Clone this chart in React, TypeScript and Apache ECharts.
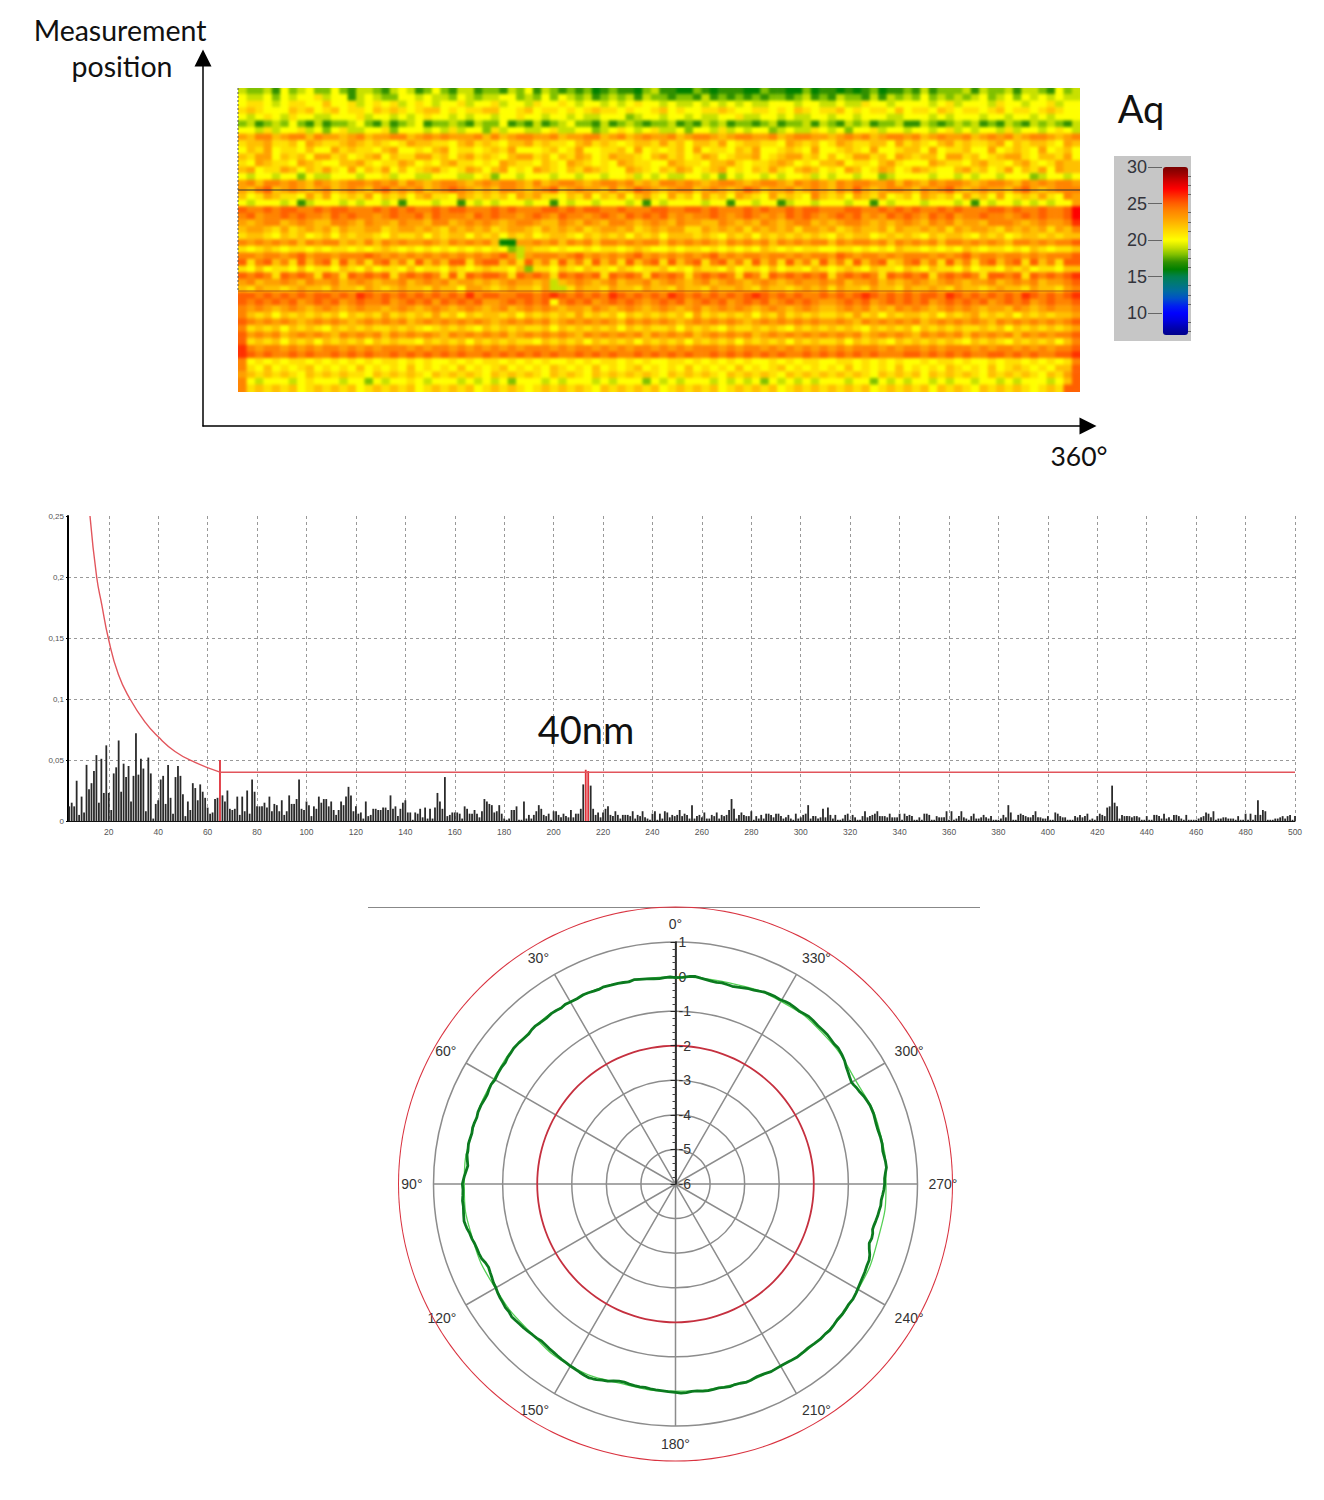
import React, { useEffect, useRef } from "react";
import * as echarts from "echarts";

// Heatmap: one character per cell, read as Aq = 16 + code position in CELL_CODES
const CELL_CODES = "0123456789ab";
const heatRows = [
  "3223142342 2421332134 3124213312 2132413212 1201211023 1100210111 0021100201 1010120112 1312223132 2313321423",
  "4334243445 3441343224 4343324323 3442324243 2312323132 2122131212 1212212312 1322131323 2423232342 3424343433",
  "4554345544 6445345453 4543445344 5344354454 3443434544 3433434343 4334443443 3433544344 4434534443 5443445344",
  "5654446564 5645546565 4566454556 6445645545 4565545445 6454455654 4554546545 5645455464 5546545545 6455456544",
  "4345435443 3444534434 3454434344 3445443443 4334442344 3443433445 3344343344 3443444334 4434344434 4344343444",
  "2312324213 1223421312 3412232132 2412131234 2213123212 2312132312 2123122313 2132312231 1321232312 1321323213",
  "4435344534 2453344524 4434353442 5344334533 4423454345 3342443534 3442343354 3424453443 4434534344 3534434543",
  "7688678868 7767867788 6787877786 8678877867 7886786787 7867887678 8778678877 6787867887 8678778678 7867887678",
  "5667556476 5567656545 7665546756 5466756554 6756545665 7564665745 6655476564 5765566475 6546756556 7465665476",
  "4657455464 4756554674 4546745545 6574445645 7445564745 4564745546 5744565474 4565474456 6474556447 4565474564",
  "6577465647 7564567465 5775646756 5467756465 7645766546 7564576456 6745677564 6457756476 5664775645 6775466574",
  "5476554765 4466754557 6454675545 4765546547 6545476554 4765546675 4556764546 6745546754 4476554675 5467545766",
  "6745576465 7547465746 4567545764 6745476546 5765447654 6576456745 4657546764 5476457645 7654467564 5746574766",
  "4344344243 3444344534 4334443345 2443444344 3443445343 4334434243 4434344534 3443442344 4434434344 3444234434",
  "7868878768 7678878786 8767887678 7887686788 7678878676 8878767887 6788768787 6878877868 7687887678 8768787887",
  "7689678767 8678768978 7867898767 6887678967 8776867987 6788678767 9867786787 6879767887 6878976787 7689767888",
  "6457655475 7456574656 4675547656 5647675546 5746574675 4756475647 6547565486 5647657456 4765647564 7456575487",
  "4344434134 4434344341 4443441434 3444344143 4434443414 3444434414 4344134434 4434414344 4344434143 4434343447",
  "9889899889 8998889898 9889899888 9898889989 8998898889 9889989888 9898898998 8899889898 9889898889 989889889b",
  "8978898988 7989887898 8979888798 9887898798 8789879898 9787889878 9878798987 8989787989 8798978898 878989889b",
  "7678867876 6887687768 7768867878 7678876687 6876887678 7687766876 7687678867 6788767678 7687867768 887678778a",
  "6776575676 7576677567 7676576767 5677657676 7567767567 6775576767 5767675776 7567667576 6767576776 5767675768",
  "5665465645 6465665465 5646566465 6465645665 4656564656 4666565465 6465656565 4656645656 5465665465 6456656566",
  "8787878687 8867686878 7787687878 6007787868 7868878788 6878787687 8786878788 6878878687 8786887878 7688787889",
  "5456545545 4554545654 5454545454 5423655454 4545545654 4545545454 5465454554 4554545465 5454546545 5454654556",
  "8878878978 8788898787 8787878787 8973788878 9787878978 7878789787 8878878788 7987887878 8878789788 7887878889",
  "9589685968 9596858968 5968699589 9685968596 8596859689 5968958968 5968596859 6859689568 9685968589 6895968599",
  "5464554645 5465464554 6455465456 5546255465 4655465455 6454655464 5546455465 4565465546 5465546455 4656455466",
  "9898598985 9859898958 9898595989 9859898598 9895989859 8985898985 9859898989 5898985989 8958989859 989598989a",
  "7867787687 7867876778 6787867767 6787767367 8767867786 7876786787 6787678778 7867786767 8767876778 6787867789",
  "6576656766 5766576567 6657664776 5676657335 7665766576 6576657667 6576656767 5766576657 6676576656 7665766578",
  "9989898989 9898a98989 8989898a89 9889989a98 9898a98989 8a98989898 9a98989889 8989a98989 8998a98989 898a98989a",
  "9898989789 8978988978 9897989897 7898989489 8978989878 9897898978 9897898987 7898978989 8978989897 8989789889",
  "8787678767 8767877678 7678767876 7867878767 7687678767 8767867878 7678767876 6787867687 8767878767 7687678778",
  "8656465656 5646565756 5657564656 6564656565 7565646565 6564756565 6465756565 5657564656 6564656756 5646565667",
  "9878787678 7876787878 6787878787 6787878678 7878768787 8767878787 6787878787 7876878787 8678787876 8787878789",
  "8565646565 4656565565 6545656546 5656556465 6565646565 5646565465 5656546565 6565465656 4656565565 6465656567",
  "9787867878 7687878687 8787687878 7867878787 6878787868 7878678787 8678787878 7878678787 6878786878 7868787889",
  "9565646564 6565646565 5465656465 6565546565 6465656465 6564656564 6565646565 5646565465 6565654656 5465656468",
  "a878878787 8878787888 7878878787 8787888787 8878787887 8787888787 8878787878 7878887878 8787888787 8878787889",
  "a989889898 8989898898 9898989889 8989898988 9898988989 8989889898 9898988989 8989898889 9898989889 989898899a",
  "8454545545 4545454554 5454454545 5454545445 4545545454 4554545454 5445454554 4554545454 4545545445 4554545458",
  "8546454564 5454645454 6454546454 5645454654 5464545645 4546454546 4545645454 5464545464 5454654546 4565454669",
  "7656565465 6565546565 6546565654 6565654656 5465656565 4656565465 6565465656 5656546565 6465656546 5656546579",
  "8434443454 4434424344 5434443434 3424443434 4434344424 3434443434 3424343434 4434424343 4434344344 3434443469",
  "8565656456 5656456565 6456565645 6565456565 6546565656 4565656456 5656456565 6565645656 5646565465 6565456599",
];
const colorStops = [
  "#00008a", "#0000b0", "#0000e0", "#0000ff", "#0020f0", "#0050c8", "#006ca0", "#007878",
  "#008050", "#008000", "#309000", "#80c000", "#c8e000", "#ffff00", "#ffe000", "#ffc000",
  "#ffa000", "#ff8400", "#ff6000", "#ff3000", "#ff0000", "#d40000", "#a00000", "#7a0000",
];
const colorbarLabels = [10, 15, 20, 25, 30];
const colorbarMinor = [7.5, 8.75, 11.25, 12.5, 13.75, 16.25, 17.5, 18.75, 21.25, 22.5, 23.75, 26.25, 27.5, 28.75];

// Spectrum amplitudes by order, each list with its first order
const barsFrom4 = [
  .012, .015, .012, .033, .005, .02, .007, .046, .026, .031, .041, .054, .015, .051, .023, .062, .023, .009,
  .039, .044, .066, .024, .047, .036, .045, .016, .037, .072, .038, .051, .043, .008, .052, .039, .002, .014,
  .017, .034, .037, .014, .046, .019, .006, .036, .045, .037, .022, .004, .016, .009, .031, .027, .017, .03,
  .024, .019, .011, .006, .007, .018, .019, .05, .021, .016, .025, .01, .009, .01, .02, .005, .02, .008, .025,
  .006, .034, .024, .012, .012, .012, .015, .011, .02, .008, .014, .013, .008, .017, .005, .008, .021, .014,
  .014, .018, .034, .01, .009, .016, .013, .004, .012, .01, .02, .015, .018, .018, .012, .016, .009, .005,
  .009, .016, .013, .02, .028, .021, .008, .012,
];
const barsFrom121 = [
  .006, .007, .002, .016, .004, .005, .01, .01, .009, .009, .011, .011, .009, .021, .01, .012, .004, .01, .015,
  .017, .007, .007, .001, .007, .006, .01, .003, .011, .002, .01, .002, .011, .023, .016, .01, .036, .004, .005,
  .007, .007, .007, .006, .002, .012, .01, .006, .006, .009, .006, .003, .008, .018, .016, .014, .013, .007,
  .008, .013, .006, .002, .001, .002, .009, .009, .012, .001, .001, .016, .002, .005, .002, .005, .008, .013,
  .01, .005, .004, .006, .001, .008, .008, .005, .003, .006, .004, .003, .009, .003, .006, .006, .01, .03, .042,
  .041, .029, .01, .005, .007, .003, .007, .01, .012, .005, .004, .008, .005, .002, .005, .005, .005, .004, .008,
  .002, .005, .004, .008, .003, .002, .001, .006, .008, .001, .006, .002, .008, .007, .003, .005, .004, .005,
];
const barsFrom251 = [
  .009, .004, .006, .005, .002, .013, .002, .004, .005, .003, .007, .002, .002, .005, .004, .007, .002, .005, .004,
  .005, .009, .018, .01, .002, .005, .007, .005, .004, .004, .008, .001, .004, .002, .005, .002, .006, .006, .005,
  .003, .006, .006, .004, .002, .003, .005, .002, .001, .006, .002, .003, .005, .006, .013, .002, .004, .004, .002,
  .003, .01, .003, .011, .005, .002, .005, .001, .001, .002, .005, .006, .001, .005, .003, .001, .001, .004, .008,
  .003, .004, .005, .006, .008, .004, .004, .004, .003, .006, .003, .003, .003, .006, .001, .006, .004, .005, .004,
  .001, .001, .003, .001, .006, .006, .005, .001, .001, .004, .003, .003, .003, .008, .001, .008, .001, .002, .004,
  .008, .003, .002, .001, .004, .006, .002, .002, .003, .005, .003, .002, .004, .001, .001, .001,
];
const barsFrom381 = [
  .002, .005, .003, .013, .007, .001, .001, .005, .006, .005, .004, .003, .003, .005, .008, .003, .003, .002, .002,
  .004, .001, .001, .007, .006, .004, .003, .003, .001, .001, .001, .004, .003, .005, .003, .004, .006, .001, .002,
  .001, .004, .006, .005, .004, .011, .012, .029, .015, .012, .002, .005, .004, .004, .004, .003, .004, .004, .003,
  .001, .001, .004, .001, .001, .005, .005, .004, .002, .006, .002, .003, .001, .005, .005, .004, .002, .001, .005,
  .001, .001, .001, .001, .002, .003, .004, .007, .006, .003, .008, .001, .002, .002, .003, .003, .002, .002, .002,
  .001, .004, .001, .001, .006, .001, .006, .001, .005, .017, .005, .009, .008, .001, .001, .001, .002, .002, .003,
  .004, .002, .004, .005, .001, .004,
];
const redOrders = [65, 213, 214];
const thresholdCurve = [
  [12.4, .25], [15.1, .2], [17.2, .177], [19.8, .15], [23.9, .12], [28.6, .1], [34.7, .081],
  [40, .069], [46.8, .057], [54.9, .048], [65, .04],
];
const thresholdFlat = [[65, .04], [500, .04]];
const xTicks = [20, 40, 60, 80, 100, 120, 140, 160, 180, 200, 220, 240, 260, 280, 300, 320, 340, 360, 380, 400, 420, 440, 460, 480, 500];

// Roundness profile: [angle in degrees, deviation]
const profile = [
  [0, -.03], [1.5, -.01], [3, -.02], [4.5, -.04], [6, -.03], [8, -.01], [10, .01], [11.5, .03], [13, 0], [14.5, .02], [16, .04],
  [18, .05], [20, .07], [21.5, .05], [23, .06], [24.5, .08], [26, .09], [28, .07], [30, .08], [31.5, .1], [33, .07], [34.5, .09],
  [36, .1], [38, .08], [40, .09], [41.5, .11], [43, .1], [44.5, .07], [46, .08], [48, .1], [50, .11], [51.5, .09], [53, .08],
  [54.5, .05], [56, .06], [58, .05], [60, .03], [61.5, .06], [63, .05], [64.5, .03], [66, .04], [68, .07], [70, .08], [71.5, .06],
  [73, .08], [74.5, .09], [76, .07], [78, .09], [79, .1], [81, .08], [82, .09], [83.5, .06], [85, .03], [86.5, .07], [88, .115],
  [89, .14], [90, .165], [91.5, .15], [93, .16], [94.5, .18], [96, .17], [98, .19], [100, .21], [101, .19], [102, .17], [103.5, .12],
  [105, .1], [106.5, .06], [108, .04], [109.5, .03], [111, .01], [112.5, -.05], [114, -.08], [115.5, -.06], [117, -.04], [118.5, -.01],
  [120, 0], [121.5, .03], [123, .05], [124.5, .06], [126, .08], [127.5, .07], [129, .1], [130.5, .08], [132, .06], [133.5, .05],
  [135, .03], [136.5, .01], [138, 0], [139.5, -.03], [141, -.02], [142.5, 0], [144, .01], [145.5, .03], [147, .05], [148.5, .06],
  [150, .08], [151.5, .09], [153, .11], [154.5, .13], [156, .14], [157, .12], [158, .1], [159.5, .06], [161, .03], [162.5, -.03],
  [164, -.07], [165.5, -.08], [167, -.06], [168.5, -.05], [170, -.04], [171.5, -.05], [173, -.03], [174.5, -.02], [176, -.01],
  [178, .01], [180, .03], [181.5, .05], [183, .04], [184.5, .02], [186, .02], [187.5, .04], [189, .05], [190.5, .04], [192, .03],
  [193.5, .05], [195, .07], [196.5, .05], [198, .06], [199.5, .09], [201, .08], [203, .05], [205, .06], [207, .09], [209, .08],
  [211, .08], [213, .1], [215, .12], [217, .11], [219, .1], [221, .12], [223, .14], [225, .13], [226.5, .15], [228, .135], [230, .11],
  [232, .12], [233.5, .11], [235, .1], [237, .12], [239, .1], [241, .07], [243, .05], [245, .04], [247, .02], [248.5, .02], [250, -.02],
  [251.5, -.09], [253, -.14], [254.5, -.11], [256, -.12], [257, -.15], [258, -.14], [259.5, -.11], [261, -.08], [262.5, -.06],
  [264, -.03], [265.5, -.03], [267, 0], [268.5, .03], [270, .05], [271.5, .05], [273, .08], [274.5, .12], [276, .11], [277.5, .09],
  [279, .07], [281, .09], [283, .08], [285, .06], [287, .06], [289.5, .08], [292, .07], [293.5, .04], [295, .01], [296.5, -.04],
  [298, -.07], [299, -.1], [300, -.12], [301.5, -.09], [303, -.05], [304.5, -.01], [306, .05], [308, .1], [310, .135], [311.5, .12],
  [313, .14], [314.5, .16], [316, .16], [318, .16], [320, .18], [321.5, .19], [323, .17], [324.5, .15], [326, .16], [327.5, .17],
  [329, .16], [330.5, .13], [332, .14], [333.5, .13], [335, .12], [336.5, .08], [338, .05], [339.5, .03], [341, 0], [342.5, -.03],
  [344, -.05], [345.5, -.04], [347, -.03], [348.5, -.05], [350, -.04], [351.5, -.02], [353, 0], [354.5, .03], [356, .02], [357, 0],
  [358, -.02], [360, -.03],
];
const fittedProfile = [
  [0, 0], [15, .03], [30, .07], [45, .1], [60, .07], [75, .07], [90, .11], [105, .08], [120, .02], [135, 0], [150, .07],
  [165, -.02], [180, -.01], [195, .03], [210, .08], [225, .12], [240, .1], [255, .07], [270, .09], [285, .1], [300, .01],
  [315, .09], [330, .1], [345, .02], [360, 0],
];
const circleAngles = [
  0, 5, 10, 15, 20, 25, 30, 35, 40, 45, 50, 55, 60, 65, 70, 75, 80, 85, 90, 95, 100, 105, 110, 115, 120, 125, 130, 135, 140, 145,
  150, 155, 160, 165, 170, 175, 180, 185, 190, 195, 200, 205, 210, 215, 220, 225, 230, 235, 240, 245, 250, 255, 260, 265, 270, 275,
  280, 285, 290, 295, 300, 305, 310, 315, 320, 325, 330, 335, 340, 345, 350, 355, 360,
];
const lowerLimit = -2;
const outerLimit = 2;

const SANS = "Lato";
const ARIAL = "Liberation Sans";
const hidden = { show: false };

// The blurred layer repeats its border cells one step outside the clipped frame, so the edges stay crisp.
function buildHeatOption() {
  const rows = heatRows.map((r) => r.replace(/ /g, ""));
  const padded = [rows[0], ...rows, rows[rows.length - 1]].map((r) => r[0] + r + r[r.length - 1]);
  const heatData: number[][] = [];
  padded.forEach((row, y) => {
    row.split("").forEach((c, x) => heatData.push([x, y, 16 + CELL_CODES.indexOf(c)]));
  });
  return {
    animation: false,
    visualMap: { show: false, type: "continuous", dimension: 2, min: 7, max: 30, inRange: { color: colorStops } },
    grid: { left: 0, right: 0, top: 0, bottom: 0 },
    xAxis: { type: "category", data: padded[0].split("").map((_, i) => String(i)), show: false },
    yAxis: { type: "category", data: padded.map((_, i) => String(i)), inverse: true, show: false },
    series: [{ type: "heatmap", data: heatData, silent: true, itemStyle: { borderWidth: 0 } }],
  };
}

function buildOption() {
  const barData: any[] = [];
  ([[4, barsFrom4], [121, barsFrom121], [251, barsFrom251], [381, barsFrom381]] as [number, number[]][]).forEach(([start, vals]) => {
    vals.forEach((v, i) => {
      const order = start + i;
      barData.push(
        redOrders.includes(order)
          ? { value: [order, v], itemStyle: { color: "#e0313a" } }
          : { value: [order, v] }
      );
    });
  });
  return {
    animation: false,
    textStyle: { fontFamily: ARIAL },
    visualMap: {
      type: "continuous",
      seriesIndex: 0,
      dimension: 2,
      min: 7,
      max: 30,
      left: 1163,
      top: 167,
      itemWidth: 25,
      itemHeight: 168,
      padding: 0,
      calculable: false,
      hoverLink: false,
      inRange: { color: colorStops },
    },
    grid: [
      { left: 203, top: 58, width: 885, height: 368 },
      { left: 1162, top: 167, width: 26, height: 168 },
      { left: 68, top: 516, width: 1227, height: 305 },
      { left: 238, top: 88, width: 842, height: 304 },
    ],
    xAxis: [
      {
        type: "value", gridIndex: 0, min: 0, max: 1,
        axisLine: { show: true, lineStyle: { color: "#000", width: 1.5 }, symbol: ["none", "triangle"], symbolSize: [17, 17] },
        axisTick: hidden, axisLabel: hidden, splitLine: hidden,
      },
      { type: "value", gridIndex: 1, min: 0, max: 1, show: false },
      {
        type: "value", gridIndex: 2, min: 3.5, max: 500,
        axisLine: { show: true, onZero: false, lineStyle: { color: "#111", width: 1 } },
        axisTick: { show: false, customValues: xTicks },
        axisLabel: { customValues: xTicks, fontSize: 8.5, color: "#555", margin: 6, fontFamily: ARIAL },
        splitLine: { show: true, lineStyle: { color: "#999", type: [3, 3], width: 1 } },
      },
      { type: "category", gridIndex: 3, data: ["0"], show: false },
    ],
    yAxis: [
      {
        type: "value", gridIndex: 0, min: 0, max: 1,
        axisLine: { show: true, lineStyle: { color: "#000", width: 1.5 }, symbol: ["none", "triangle"], symbolSize: [17, 17] },
        axisTick: hidden, axisLabel: hidden, splitLine: hidden,
      },
      {
        type: "value", gridIndex: 1, min: 7, max: 30, z: 3,
        axisLine: hidden,
        axisTick: { show: true, length: 14, customValues: colorbarLabels, lineStyle: { color: "#666", width: 1 } },
        axisLabel: { customValues: colorbarLabels, fontSize: 18, color: "#33343c", margin: 15, fontFamily: ARIAL },
        splitLine: hidden,
      },
      {
        type: "value", gridIndex: 1, min: 7, max: 30, z: 3,
        axisLine: hidden,
        axisTick: { show: true, length: 3, customValues: colorbarMinor, lineStyle: { color: "#666", width: 1 } },
        axisLabel: hidden,
        splitLine: hidden,
      },
      {
        type: "value", gridIndex: 2, min: 0, max: 0.25, interval: 0.05,
        axisLine: { show: true, lineStyle: { color: "#000", width: 2 } },
        axisTick: { show: true, length: 2, lineStyle: { color: "#000" } },
        axisLabel: {
          fontSize: 8, color: "#555", margin: 4, fontFamily: ARIAL,
          formatter: (v: number) => String(v).replace(".", ","),
        },
        splitLine: { show: true, showMaxLine: false, showMinLine: false, lineStyle: { color: "#999", type: [3, 3], width: 1 } },
      },
      { type: "category", gridIndex: 3, data: ["0"], show: false },
    ],
    polar: [
      { center: [675.5, 1184], radius: 242 },
      { center: [675.5, 1184], radius: 277.5 },
    ],
    angleAxis: [
      {
        polarIndex: 0,
        type: "value", min: 0, max: 360, interval: 30, startAngle: 90, clockwise: false,
        axisLine: hidden,
        axisTick: hidden,
        axisLabel: {
          fontSize: 14, color: "#333", margin: 11, fontFamily: ARIAL,
          formatter: (v: number) => (v === 360 ? "" : v + "°"),
        },
        splitLine: { show: true, lineStyle: { color: "#8c8c8c", width: 1.5 } },
      },
      { polarIndex: 1, type: "value", min: 0, max: 360, startAngle: 90, clockwise: false, show: false },
    ],
    radiusAxis: [
      {
        polarIndex: 0,
        min: -6, max: 1, interval: 1, z: 5,
        axisLine: { show: true, lineStyle: { color: "#111", width: 1.5 } },
        axisTick: { show: true, inside: true, length: 5, lineStyle: { color: "#222" } },
        minorTick: { show: true, splitNumber: 5, length: 3, lineStyle: { color: "#444" } },
        axisLabel: { align: "left", verticalAlign: "middle", fontSize: 14, color: "#333", margin: -3, fontFamily: ARIAL },
        splitLine: {
          show: true,
          lineStyle: {
            width: 1.5,
            color: ["#8c8c8c", "#8c8c8c", "#8c8c8c", "#8c8c8c", "rgba(0,0,0,0)", "#8c8c8c", "rgba(0,0,0,0)", "#8c8c8c"],
          },
        },
      },
      { polarIndex: 1, min: -6, max: 2, show: false },
    ],
    series: [
      { type: "heatmap", xAxisIndex: 3, yAxisIndex: 4, data: [], silent: true },
      {
        type: "bar", xAxisIndex: 2, yAxisIndex: 3, data: barData, barWidth: 1.8, silent: true,
        itemStyle: { color: "#2a2a2a" },
      },
      {
        type: "line", xAxisIndex: 2, yAxisIndex: 3, data: thresholdCurve, symbol: "none", smooth: 0.5,
        lineStyle: { color: "#e2555c", width: 1.4 }, silent: true, z: 4,
      },
      {
        type: "line", xAxisIndex: 2, yAxisIndex: 3, data: thresholdFlat, symbol: "none",
        lineStyle: { color: "#e2555c", width: 1.4 }, silent: true, z: 4,
      },
      {
        type: "line", coordinateSystem: "polar", polarIndex: 0, data: circleAngles.map((a) => [lowerLimit, a]), symbol: "none", smooth: true,
        lineStyle: { color: "#c5303f", width: 1.8 }, silent: true, z: 3,
      },
      {
        type: "line", coordinateSystem: "polar", polarIndex: 1, data: circleAngles.map((a) => [outerLimit, a]), symbol: "none", smooth: true,
        lineStyle: { color: "#d9323f", width: 2 }, silent: true, z: 3,
      },
      {
        type: "line", coordinateSystem: "polar", polarIndex: 0, data: fittedProfile.map(([a, v]) => [v, a]), symbol: "none", smooth: true,
        lineStyle: { color: "#55d055", width: 1.3 }, silent: true, z: 4,
      },
      {
        type: "line", coordinateSystem: "polar", polarIndex: 0, data: profile.map(([a, v]) => [v, a]), symbol: "none",
        lineStyle: { color: "#0b7a1f", width: 2.8 }, silent: true, z: 5,
      },
    ],
    graphic: {
      elements: [
        { type: "rect", z: -1, shape: { x: 1114, y: 156, width: 77, height: 185 }, style: { fill: "#c6c6c6" } },
        { type: "line", z: 10, shape: { x1: 238, y1: 190, x2: 1080, y2: 190 }, style: { stroke: "#333", lineWidth: 1 } },
        { type: "line", z: 10, shape: { x1: 238, y1: 291, x2: 1080, y2: 291 }, style: { stroke: "#a8481a", lineWidth: 0.8 } },
        { type: "line", z: 10, shape: { x1: 238, y1: 88, x2: 238, y2: 290 }, style: { stroke: "#555", lineWidth: 1, lineDash: [2, 2] } },
        { type: "line", z: 1, shape: { x1: 368, y1: 907.5, x2: 980, y2: 907.5 }, style: { stroke: "#888", lineWidth: 1 } },
        { type: "text", z: 10, x: 120, y: 30, style: { text: "Measurement", font: `28.5px ${SANS}`, fill: "#111", textAlign: "center", textVerticalAlign: "middle" } },
        { type: "text", z: 10, x: 122, y: 66, style: { text: "position", font: `28.5px ${SANS}`, fill: "#111", textAlign: "center", textVerticalAlign: "middle" } },
        { type: "text", z: 10, x: 1141, y: 108, style: { text: "Aq", font: `38px ${SANS}`, fill: "#111", textAlign: "center", textVerticalAlign: "middle" } },
        { type: "text", z: 10, x: 1079, y: 456, style: { text: "360°", font: `26.5px ${SANS}`, fill: "#111", textAlign: "center", textVerticalAlign: "middle" } },
        { type: "text", z: 10, x: 586, y: 729, style: { text: "40nm", font: `38px ${SANS}`, fill: "#111", textAlign: "center", textVerticalAlign: "middle" } },
      ],
    },
  };
}

const HEAT_W = 842;
const HEAT_H = 304;
const CELL_W = HEAT_W / 100;
const CELL_H = HEAT_H / 46;

export default function App() {
  const heatRef = useRef<HTMLDivElement>(null);
  const ref = useRef<HTMLDivElement>(null);
  useEffect(() => {
    const heat = echarts.init(heatRef.current!, undefined, { renderer: "svg" });
    heat.setOption(buildHeatOption() as any);
    const chart = echarts.init(ref.current!, undefined, { renderer: "svg" });
    chart.setOption(buildOption() as any);
    return () => {
      heat.dispose();
      chart.dispose();
    };
  }, []);
  return (
    <>
      <div style={{ position: "absolute", left: 238, top: 88, width: HEAT_W, height: HEAT_H, overflow: "hidden" }}>
        <div
          ref={heatRef}
          style={{
            position: "absolute",
            left: -CELL_W,
            top: -CELL_H,
            width: HEAT_W + 2 * CELL_W,
            height: HEAT_H + 2 * CELL_H,
            filter: "blur(1.6px)",
          }}
        />
      </div>
      <div ref={ref} style={{ position: "absolute", left: 0, top: 0, width: 1324, height: 1500 }} />
    </>
  );
}
